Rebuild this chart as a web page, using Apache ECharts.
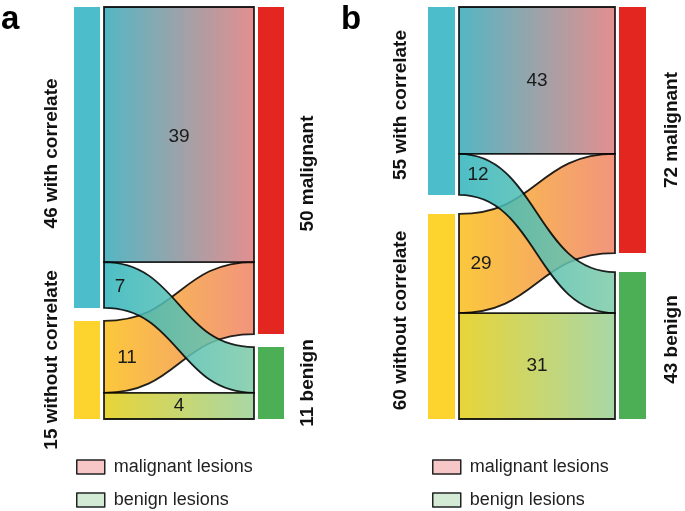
<!DOCTYPE html>
<html><head><meta charset="utf-8">
<script src="https://cdn.jsdelivr.net/npm/echarts@6/dist/echarts.min.js"></script>
<style>html,body{margin:0;padding:0;background:#fff}#c{width:685px;height:511px}</style>
</head><body><div id="c"></div>
<script>
// ---- data ----
const sources = ['with correlate', 'without correlate'];
const targets = ['malignant', 'benign'];
// panel a: flows from each source to [malignant, benign]
const panelA_withCorrelate = [39, 7];
const panelA_withoutCorrelate = [11, 4];
// panel b
const panelB_withCorrelate = [43, 12];
const panelB_withoutCorrelate = [29, 31];
const panelLetters = ['a', 'b'];
const legendNames = ['malignant lesions', 'benign lesions'];

// ---- styles ----
const FONT = "'Liberation Sans', Arial, Helvetica, sans-serif";
const nodeColors = {
  'with correlate': '#4BBDCB',
  'without correlate': '#FDD32E',
  'malignant': '#E3261F',
  'benign': '#4CAF55'
};
const linkColors = {
  'with correlate|malignant': ['#37ABBB', '#E07C7C'],
  'with correlate|benign': ['#30B4BD', '#7FCBA8'],
  'without correlate|malignant': ['#FBBF1C', '#F08368'],
  'without correlate|benign': ['#E5CE17', '#9AD199']
};
const legendColors = ['#F7C6C6', '#D3EBD4'];

function nodeFill(color, side, frac) {
  const t = 'rgba(255,255,255,0)';
  const stops = side === 'left'
    ? [{offset: 0, color: color}, {offset: frac, color: color}, {offset: frac, color: t}, {offset: 1, color: t}]
    : [{offset: 0, color: t}, {offset: 1 - frac, color: t}, {offset: 1 - frac, color: color}, {offset: 1, color: color}];
  return {type: 'linear', x: 0, y: 0, x2: 1, y2: 0, colorStops: stops};
}

// label offsets are given as a screen-space vertical shift; the label is rotated 90deg
function rotOffset(dy) { return [-dy, 0]; }

function buildSankey(matrix, cfg) {
  const nodes = [];
  sources.forEach(function (s, i) {
    nodes.push({
      name: s,
      value: matrix[i].reduce(function (a, b) { return a + b; }, 0),
      itemStyle: {color: nodeFill(nodeColors[s], 'left', cfg.frac)},
      label: {position: 'left', distance: cfg.distL, offset: rotOffset(cfg.labelShift[s] || 0)}
    });
  });
  targets.forEach(function (t, j) {
    nodes.push({
      name: t,
      value: matrix.reduce(function (a, row) { return a + row[j]; }, 0),
      itemStyle: {color: nodeFill(nodeColors[t], 'right', cfg.frac)},
      label: {position: 'right', distance: cfg.distR, offset: rotOffset(cfg.labelShift[t] || 0)}
    });
  });
  const links = [];
  targets.forEach(function (t, j) {
    sources.forEach(function (s, i) {
      const key = s + '|' + t;
      const c = linkColors[key];
      const l = {
        source: s, target: t, value: matrix[i][j],
        lineStyle: {color: {type: 'linear', x: 0, y: 0, x2: 1, y2: 0,
          colorStops: [{offset: 0, color: c[0]}, {offset: 1, color: c[1]}]}}
      };
      if (cfg.edgeOffsets[key]) l.edgeLabel = {offset: cfg.edgeOffsets[key]};
      links.push(l);
    });
  });
  return {
    type: 'sankey',
    left: cfg.left, top: 7, width: cfg.width, height: 412,
    nodeWidth: cfg.nodeWidth, nodeGap: cfg.nodeGap,
    layoutIterations: 0, draggable: false,
    emphasis: {disabled: true},
    data: nodes, links: links,
    itemStyle: {borderWidth: 0},
    label: {
      show: true, rotate: 90, align: 'center', verticalAlign: 'middle',
      fontFamily: FONT, fontWeight: 'bold', fontSize: 19, color: '#111',
      formatter: function (p) { return p.value + ' ' + p.name; }
    },
    lineStyle: {opacity: 0.86, borderColor: '#000', borderWidth: 1.8, curveness: 0.5},
    edgeLabel: {
      show: true, fontFamily: FONT, fontSize: 19, color: '#1a1a1a',
      formatter: function (p) { return String(p.value); }
    }
  };
}

const seriesA = buildSankey([panelA_withCorrelate, panelA_withoutCorrelate], {
  left: 74, width: 210, nodeWidth: 30, nodeGap: 13, frac: 26 / 30, distL: 22, distR: 24,
  labelShift: {'with correlate': -4, 'without correlate': -10, 'malignant': 3},
  edgeOffsets: {'with correlate|malignant': [0, 2], 'with correlate|benign': [-59, -41], 'without correlate|malignant': [-52, 30]}
});
const seriesB = buildSankey([panelB_withCorrelate, panelB_withoutCorrelate], {
  left: 428, width: 218, nodeWidth: 31, nodeGap: 19, frac: 27 / 31, distL: 27, distR: 26,
  labelShift: {'with correlate': 4, 'without correlate': 4, 'benign': -6},
  edgeOffsets: {'with correlate|benign': [-59, -59], 'without correlate|malignant': [-56, 30]}
});

function legendAt(left) {
  return {
    left: left, top: 458, orient: 'vertical', padding: 0,
    itemWidth: 28, itemHeight: 14, itemGap: 15, selectedMode: false, icon: 'rect',
    itemStyle: {borderColor: '#222', borderWidth: 1.5},
    textStyle: {fontSize: 18, fontFamily: FONT, color: '#222', padding: [0, 0, 0, 4]},
    data: legendNames.map(function (n, i) { return {name: n, itemStyle: {color: legendColors[i]}}; })
  };
}

const chart = echarts.init(document.getElementById('c'));
chart.setOption({
  backgroundColor: '#fff',
  animation: false,
  title: panelLetters.map(function (t, i) {
    return {text: t, left: i === 0 ? 1 : 341, top: 3, padding: 0,
      textStyle: {fontSize: 33, fontWeight: 'bold', fontFamily: FONT, color: '#000'}};
  }),
  legend: [legendAt(76), legendAt(432)],
  series: [seriesA, seriesB].concat(legendNames.map(function (n) {
    return {type: 'pie', name: n, data: [], radius: 0, showEmptyCircle: false, silent: true};
  }))
});
</script></body></html>
